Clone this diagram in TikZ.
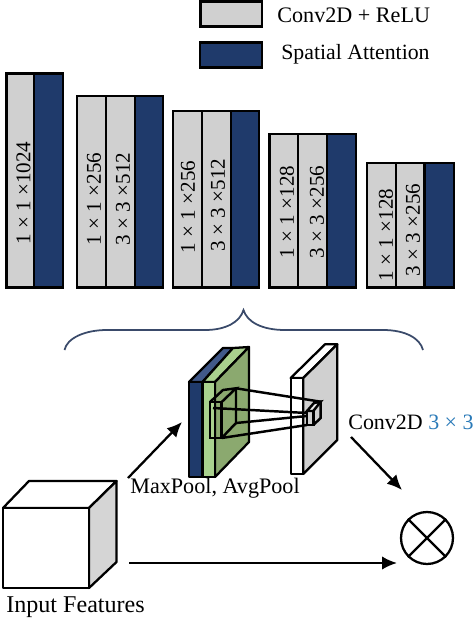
\documentclass[tikz,border=0pt]{standalone}
\usepackage{fontspec}
\setmainfont{Liberation Serif}
\usetikzlibrary{arrows.meta}
\definecolor{navyfill}{HTML}{1F3A6B}
\definecolor{navytop}{HTML}{41598A}
\definecolor{grayfill}{HTML}{D0D0D0}
\definecolor{lightgreen}{HTML}{A9D18E}
\definecolor{midgreen}{HTML}{8BA96F}
\definecolor{bracecol}{HTML}{3A4A6A}
\definecolor{bluetext}{HTML}{2A7AB8}

\begin{document}
\begin{tikzpicture}[x=0.02cm,y=-0.02cm,conv/.style={draw=black,line width=1.3pt,fill=grayfill},atten/.style={draw=black,line width=1.3pt,fill=navyfill},face/.style={draw=black,line width=1.3pt,line join=round},ray/.style={line width=1.4pt},flow/.style={line width=1.3pt,-{Latex[length=3mm,width=2.7mm]}},blocklabel/.style={rotate=90,font=\fontsize{12}{12}\selectfont,inner sep=0pt},caption/.style={anchor=west,inner sep=0pt}]
\useasboundingbox (0,0) rectangle (474,619);
% legend
\fill[white] (0,0) rectangle (474,619);
\draw[conv] (200.5,1.5) rectangle (262,26.5); \node[caption,font=\fontsize{12.6}{14}\selectfont] (legconv) at (277,15){Conv2D + ReLU};
\draw[atten] (200,42.5) rectangle (262,67.5); \node[caption,font=\fontsize{12.4}{14}\selectfont] (legatten) at (281,54){Spatial Attention};
% blocks
\foreach \xa/\xb/\ya/\txt/\tx/\ty/\id in {6.5/33.7/73.5/{1 × 1 ×1024}/23.5/193/a,77/106/96/{1 × 1 ×256}/94/199/b,106/134.7/96/{3 × 3 ×512}/123/199/c,173/202/111/{1 × 1 ×256}/188/207/d,202/230.7/111/{3 × 3 ×512}/218/205/e,269.5/298/134/{1 × 1 ×128}/287/212/f,298/327/134/{3 × 3 ×256}/317/212/g,367/396/163/{1 × 1 ×128}/386/235/h,396/424.5/163/{3 × 3 ×256}/413/230/i} {\draw[conv] (\xa,\ya) rectangle (\xb,287.5); \node[blocklabel] (lab\id) at (\tx,\ty){\txt};}
\foreach \xa/\xb/\ya in {33.7/62.7/73.5,134.7/162.7/96,230.7/259/111,327/356/134,424.5/454/163} {\draw[atten] (\xa,\ya) rectangle (\xb,287.5);}
% brace
\draw[bracecol,line width=1pt] (64.5,350) .. controls (67,338) and (85,330) .. (107,330) -- (205,330) .. controls (226,330) and (240,322) .. (243.5,310) .. controls (247,322) and (262,330) .. (285,330) -- (383,330) .. controls (405,330) and (420,338) .. (423,350);
% attention maps
\draw[face,fill=navytop] (189,382) -- (202.5,382) -- (233,348) -- (223,348) -- cycle;
\draw[face,fill=lightgreen] (202.5,382) -- (215,382) -- (249,347) -- (233,348) -- cycle;
\draw[face,fill=midgreen] (215,382) -- (249,347) -- (249,442) -- (215,477) -- cycle;
\draw[face,fill=navyfill] (189,382) rectangle (202.5,477);
\draw[face,fill=lightgreen] (202.5,382) rectangle (215,477);
% conv panel
\draw[face,fill=white] (290.7,378) -- (303.3,378) -- (337.3,344.3) -- (325,344.3) -- cycle;
\draw[face,fill=grayfill] (303.3,378) -- (337.3,344.3) -- (337.3,440) -- (303.3,474) -- cycle;
\draw[face,fill=white] (290.7,378) rectangle (303.3,474);
% window on the maps
\draw[ray] (210,402) rectangle (221.7,438);
\draw[ray] (210,402) -- (223,390) -- (236,388.3) -- (221.7,402); \draw[ray] (236,388.3) -- (236,423) -- (221.7,438);
% window on the panel
\draw[ray,fill=white!60!grayfill] (307,411) -- (314,403) -- (320.7,401.7) -- (313.3,411) -- cycle;
\draw[ray] (320.7,401.7) -- (320.7,418) -- (313.3,425);
\draw[ray] (307,411) rectangle (313.3,425);
% rays
\draw[ray] (236,388.3) -- (320.7,401.7); \draw[ray] (213,408) -- (307,413); \draw[ray] (236,423) -- (307,416); \draw[ray] (221.7,438) -- (307,425);
% input cube
\draw[face,fill=white] (3,508) -- (29,481) -- (116.5,481) -- (89,508) -- cycle;
\draw[face,fill=grayfill!90!white] (89,508) -- (116.5,481) -- (116.5,562) -- (89,588) -- cycle;
\draw[face,fill=white] (3,508) rectangle (89,588);
\node[caption,font=\fontsize{13.7}{14}\selectfont] (inputlab) at (6,607){Input Features};
\node[caption,font=\fontsize{12.6}{14}\selectfont] (poollab) at (130,488){MaxPool, AvgPool};
\node[caption,font=\fontsize{12.5}{14}\selectfont] (convlab) at (348,422){Conv2D \textcolor{bluetext}{3 × 3}};
% mul
\node[draw,circle,line width=1.3pt,inner sep=0pt,minimum size=1.04cm] (mul) at (427,538){};
\draw[line width=1.3pt] (mul.45) -- (mul.225); \draw[line width=1.3pt] (mul.135) -- (mul.315);
% arrows
\coordinate (cubeout) at (129,563); \coordinate (mulin) at (397,563);
\coordinate (poolstart) at (128,478); \coordinate (poolend) at (182,422);
\coordinate (convstart) at (351,437); \coordinate (convend) at (402,490);
\draw[flow] (cubeout) -- (mulin); \draw[flow] (poolstart) -- (poolend); \draw[flow] (convstart) -- (convend);
\end{tikzpicture}
\end{document}
